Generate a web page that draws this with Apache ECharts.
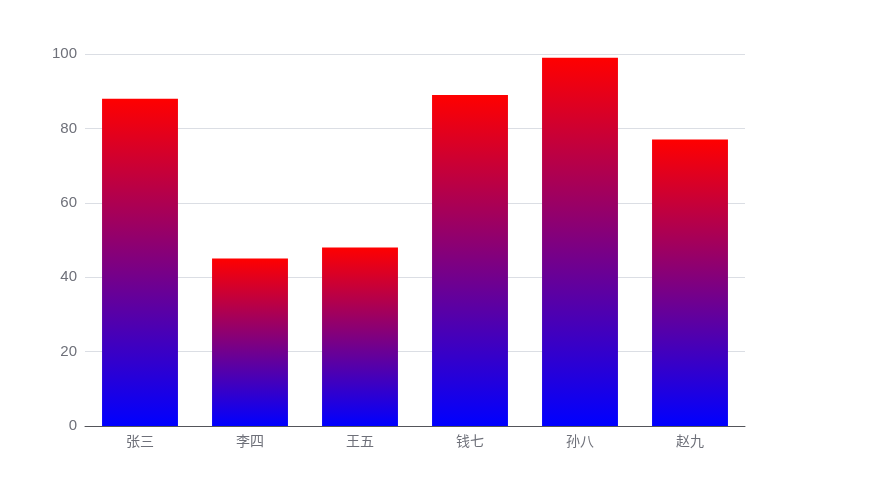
<!DOCTYPE html>
<html>
<head>
<meta charset="utf-8">
<script src="https://cdn.jsdelivr.net/npm/echarts@6/dist/echarts.min.js"></script>
<style>html,body{margin:0;padding:0;background:#fff}#main{width:881px;height:490px}</style>
</head>
<body>
<div id="main"></div>
<script>
const categories = ['张三', '李四', '王五', '钱七', '孙八', '赵九'];
const values = [88, 45, 48, 89, 99, 77];

const chart = echarts.init(document.getElementById('main'));
chart.setOption({
    grid: { left: 85, right: 136, top: 54, bottom: 64, containLabel: false },
    xAxis: {
        type: 'category',
        data: categories,
        axisLabel: { fontSize: 14, color: '#6e7079', fontFamily: 'Noto Sans CJK SC' }
    },
    yAxis: {
        type: 'value',
        min: 0,
        max: 100,
        interval: 20,
        axisLabel: { fontSize: 15, color: '#6e7079' }
    },
    series: [{
        type: 'bar',
        data: values,
        barWidth: '69%',
        itemStyle: {
            color: new echarts.graphic.LinearGradient(0, 0, 0, 1, [
                { offset: 0, color: '#ff0000' },
                { offset: 1, color: '#0000ff' }
            ])
        }
    }]
});
</script>
</body>
</html>
